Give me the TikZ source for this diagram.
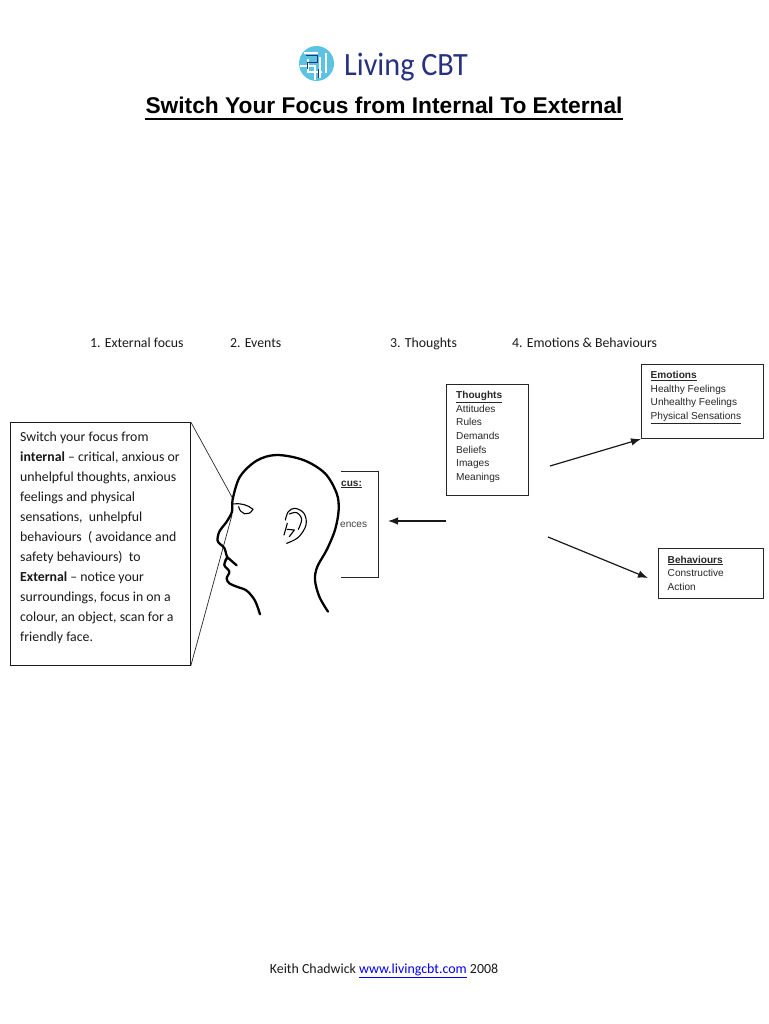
\documentclass[tikz,border=0pt]{standalone}
\usepackage{fontspec}
\setmainfont{Carlito}
\newfontfamily\arialf{Liberation Sans}
\usetikzlibrary{arrows.meta}
\definecolor{navy}{HTML}{26327F}
\definecolor{logoblue}{HTML}{5CC3E3}
\definecolor{linkblue}{HTML}{0000EE}
\tikzset{
  carlito/.style={font=\fontsize{13.8}{20.05}\selectfont, inner sep=0pt, anchor=base west, text=black!90},
  smallbox/.style={draw=black!85, line width=1pt},
  smalltext/.style={font=\arialf\fontsize{10.1}{13.65}\selectfont, inner sep=0pt, anchor=north west, align=left, text=black!85},
  conn/.style={line width=1.2pt, black!90, -{Latex[length=10pt,width=7.5pt]}},
  thin line/.style={line width=0.7pt, black!85},
  headline/.style={line width=2.3pt, line cap=round, line join=round},
  faceline/.style={line width=1.1pt, line cap=round, line join=round}
}
\begin{document}
\begin{tikzpicture}[x=1pt,y=-1pt]
\useasboundingbox (0,0) rectangle (768,1024);
% logo
\node[circle, fill=logoblue, minimum size=35pt, inner sep=0pt] (logo) at (316.5,63.5) {};
\draw[white, line width=1.3pt] (304,53) -- (318,53) (300,66) -- (315,66) -- (315,80) (320,57) -- (320,78) (326,53) -- (326,73) (308,59) -- (308,72) -- (322,72);
\draw[navy, line width=0.7pt] (306,55) -- (317,55) -- (317,62) -- (307,62) -- (307,69) (318,69) -- (318,78);
\node[font=\fontsize{32.5}{32.5}\selectfont, text=navy, inner sep=0pt, anchor=base west, xscale=0.93] (brand) at (344,76) {Living CBT};
% title
\node[font=\arialf\bfseries\fontsize{22.75}{23}\selectfont, inner sep=0pt, anchor=base] (title) at (384,113.5) {Switch Your Focus from Internal To External};
\draw[line width=1.7pt] ([yshift=-5.5pt]title.base west) -- ([yshift=-5.5pt]title.base east);
% headers
\node[carlito] (h1) at (90,347) {1. External focus};
\node[carlito] (h2) at (230,347) {2. Events};
\node[carlito] (h3) at (390,347) {3. Thoughts};
\node[carlito] (h4) at (512,347) {4. Emotions \& Behaviours};
% text box
\node[draw=black!90, line width=0.8pt, minimum width=180pt, minimum height=243pt, inner sep=0pt, anchor=north west] (textbox) at (10,422) {};
\node[font=\fontsize{13.8}{20.05}\selectfont, inner sep=0pt, anchor=north west, align=left, text=black!90] (texttxt) at (20,431.5) {Switch your focus from\\
\textbf{internal} – critical, anxious or\\
unhelpful thoughts, anxious\\
feelings and physical\\
sensations,\ \ unhelpful\\
behaviours\ \ ( avoidance and\\
safety behaviours)\ \ to\\
\textbf{External} – notice your\\
surroundings, focus in on a\\
colour, an object, scan for a\\
friendly face.};
\coordinate (eyeA) at (232.5,498);
\coordinate (eyeB) at (232,515);
\draw[thin line] (textbox.north east) -- (eyeA);
\draw[thin line] (textbox.south east) -- (eyeB);
% focus box, partly hidden by head
\coordinate (fa) at (341,471); \coordinate (fb) at (378.7,471); \coordinate (fc) at (378.7,577.5); \coordinate (fd) at (341,577.5);
\draw[smallbox] (fa) -- (fb) -- (fc) -- (fd);
\node[font=\arialf\bfseries\fontsize{10.1}{12}\selectfont, inner sep=0pt, anchor=base west, text=black!85] (fcus) at (341,486) {\underline{cus:}};
\node[font=\arialf\fontsize{10.1}{12}\selectfont, inner sep=0pt, anchor=base west, text=black!75] (fenc) at (340,527) {ences};
% head
\begin{scope}[shift={(180,440)}, x=0.3333pt, y=-0.3333pt]
\draw[headline] plot[smooth, tension=0.55] coordinates {(240,523) (225,482) (200,452) (170,440) (148,430) (140,415) (148,395) (133,375) (142,352)};
\draw[headline] (142,352) .. controls (150,358) and (160,368) .. (170,376);
\draw[headline] (136,362) -- (142,352) .. controls (136,340) and (138,326) .. (128,318);
\draw[headline] plot[smooth, tension=0.55] coordinates {(128,318) (113,303) (118,275) (140,245) (156,215) (158,178) (180,110) (230,62) (290,45) (370,60) (435,100) (470,160) (476,210) (465,270) (440,330) (412,380) (405,420) (418,470) (444,515)};
\draw[faceline] (158,192) .. controls (180,188) and (205,195) .. (219,208);
\draw[faceline] (176,200) .. controls (180,222) and (205,232) .. (219,208);
\draw[faceline] plot[smooth, tension=0.6] coordinates {(320,310) (355,292) (378,255) (372,220) (345,205) (325,215) (316,240)};
\draw[faceline] plot[smooth, tension=0.6] coordinates {(328,222) (350,218) (365,238) (355,268)};
\draw[faceline] (322,250) -- (312,285) (322,268) -- (343,270) -- (328,290);
\end{scope}
% small boxes
\node[smallbox, minimum width=82pt, minimum height=111pt, inner sep=0pt, anchor=north west] (thoughts) at (446,384) {};
\node[smalltext] (thtxt) at (456,391) {\textbf{\underline{Thoughts}}\\Attitudes\\Rules\\Demands\\Beliefs\\Images\\Meanings};
\node[smallbox, minimum width=122pt, minimum height=74pt, inner sep=0pt, anchor=north west] (emotions) at (641,364) {};
\node[smalltext] (emtxt) at (650.5,371) {\textbf{\underline{Emotions}}\\Healthy Feelings\\Unhealthy Feelings\\\underline{Physical Sensations}};
\node[smallbox, minimum width=105pt, minimum height=50pt, inner sep=0pt, anchor=north west] (behav) at (658,548) {};
\node[smalltext] (betxt) at (667.5,555.5) {\textbf{\underline{Behaviours}}\\Constructive\\Action};
% connectors
\coordinate (t1) at (446,521); \coordinate (t2) at (388,521);
\coordinate (e1) at (550,466); \coordinate (b1) at (548,537); \coordinate (b2) at (648,578);
\draw[conn] (t1) -- (t2);
\draw[conn] (e1) -- (emotions.south west);
\draw[conn] (b1) -- (b2);
% footer
\node[font=\fontsize{13.9}{15}\selectfont, inner sep=0pt, anchor=base, text=black!90] (footer) at (384,973) {Keith Chadwick {\color{linkblue}\underline{www.livingcbt.com}} 2008};
\end{tikzpicture}
\end{document}
